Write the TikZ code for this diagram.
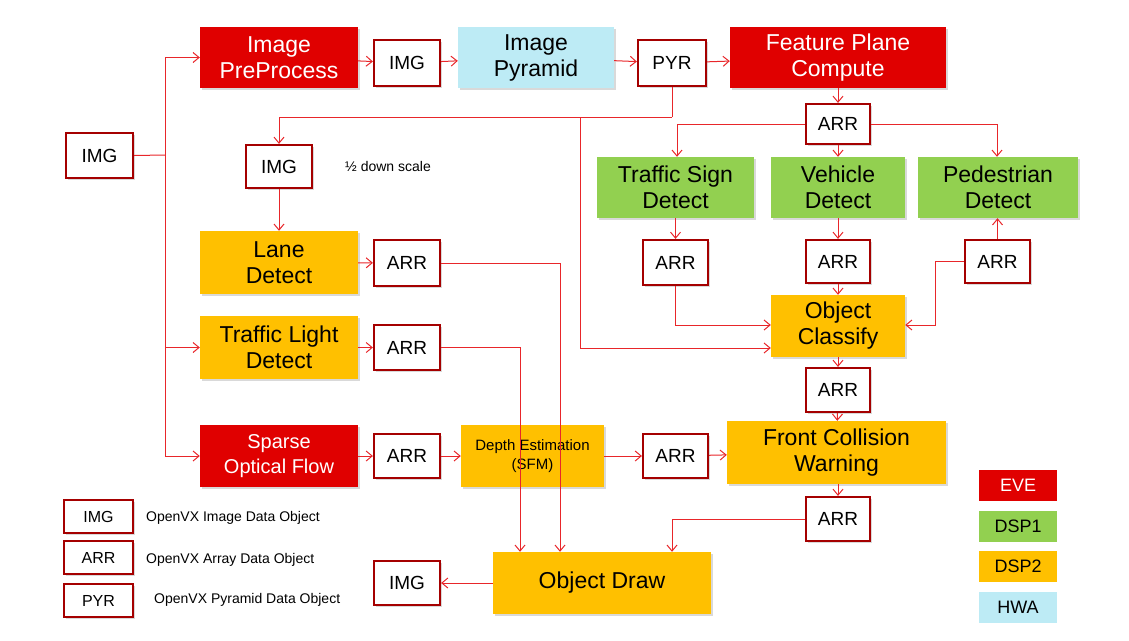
\documentclass[tikz,border=0pt]{standalone}
\usepackage{fontspec}
\setmainfont{Liberation Sans}
\usetikzlibrary{arrows.meta,shadows}
\definecolor{eve}{HTML}{E00000}
\definecolor{hwa}{HTML}{BDEBF5}
\definecolor{dspa}{HTML}{92D050}
\definecolor{dspb}{HTML}{FFC000}
\definecolor{ln}{HTML}{E8262A}
\definecolor{bd}{HTML}{A50000}
\begin{document}
\begin{tikzpicture}[x=1pt,y=-1pt,
  blk/.style={inner sep=0pt,align=center,font=\fontsize{23}{26}\selectfont,drop shadow={shadow xshift=2pt,shadow yshift=-2pt,opacity=0.3}},
  obj/.style={draw=bd,line width=2.2pt,fill=white,inner sep=0pt,font=\fontsize{19}{22}\selectfont,drop shadow={shadow xshift=2pt,shadow yshift=-2pt,opacity=0.3}},
  lg/.style={inner sep=0pt,align=center,font=\fontsize{18}{20}\selectfont},
  cn/.style={draw=ln,line width=1pt,-{Straight Barb[length=6pt,width=10pt]}},
  cl/.style={draw=ln,line width=1pt},
  txt/.style={inner sep=0pt,anchor=west,font=\fontsize{14}{16}\selectfont}]
\useasboundingbox (0,0) rectangle (1129,640);
\newcommand\bx[7]{\node[#6,minimum width=#4-#2,minimum height=#5-#3] (#1) at ({(#2+#4)/2},{(#3+#5)/2}) {#7};}
% process blocks
\bx{ipp}{200}{27}{358}{88}{blk,fill=eve,text=white}{Image\\PreProcess}
\bx{pyr}{458}{27}{614}{88}{blk,fill=hwa}{Image\\Pyramid}
\bx{fpc}{730}{27}{946}{88}{blk,fill=eve,text=white}{Feature Plane\\Compute}
\bx{tsd}{597}{157}{754}{218}{blk,fill=dspa}{Traffic Sign\\Detect}
\bx{vd}{771}{157}{905}{218}{blk,fill=dspa}{Vehicle\\Detect}
\bx{pd}{918}{157}{1078}{218}{blk,fill=dspa}{Pedestrian\\Detect}
\bx{oc}{771}{295}{905}{357}{blk,fill=dspb}{Object\\Classify}
\bx{ld}{200}{231}{358}{294}{blk,fill=dspb}{Lane\\Detect}
\bx{tld}{200}{316}{358}{379}{blk,fill=dspb}{Traffic Light\\Detect}
\bx{sof}{200}{425}{358}{487}{blk,fill=eve,text=white,font=\fontsize{20}{25}\selectfont}{Sparse\\Optical Flow}
\bx{de}{461}{425}{604}{487}{blk,fill=dspb,font=\fontsize{15}{19}\selectfont}{Depth Estimation\\(SFM)}
\bx{fcw}{727}{421}{946}{484}{blk,fill=dspb}{Front Collision\\Warning}
\bx{od}{493}{552}{711}{614}{blk,fill=dspb}{Object Draw}
% data objects
\bx{imgL}{66}{133}{133}{178}{obj}{IMG}
\bx{img1}{374}{40}{440}{86}{obj}{IMG}
\bx{pyrO}{638}{40}{706}{86}{obj}{PYR}
\bx{arrT}{806}{104}{870}{144}{obj}{ARR}
\bx{imgH}{246}{145}{312}{188}{obj}{IMG}
\bx{arrTS}{643}{240}{708}{285}{obj}{ARR}
\bx{arrV}{806}{240}{870}{283}{obj}{ARR}
\bx{arrP}{965}{240}{1030}{283}{obj}{ARR}
\bx{arrL}{374}{240}{440}{286}{obj}{ARR}
\bx{arrTL}{374}{325}{440}{370}{obj}{ARR}
\bx{arrOC}{806}{368}{870}{412}{obj}{ARR}
\bx{arrS}{374}{434}{440}{478}{obj}{ARR}
\bx{arrD}{643}{434}{708}{478}{obj}{ARR}
\bx{arrF}{806}{497}{870}{541}{obj}{ARR}
\bx{imgO}{374}{561}{440}{605}{obj}{IMG}
% legend
\bx{lgI}{64}{500}{133}{533}{obj,font=\fontsize{16}{18}\selectfont}{IMG}
\bx{lgA}{64}{541}{133}{574}{obj,font=\fontsize{16}{18}\selectfont}{ARR}
\bx{lgP}{64}{584}{133}{617}{obj,font=\fontsize{16}{18}\selectfont}{PYR}
\node[txt] (t1) at (146,518) {OpenVX Image Data Object};
\node[txt] (t2) at (146,560) {OpenVX Array Data Object};
\node[txt] (t3) at (154,600) {OpenVX Pyramid Data Object};
\node[txt] (ds) at (345,166) {½ down scale};
\bx{eve}{979}{470}{1057}{501}{lg,fill=eve,text=white}{EVE}
\bx{d1}{979}{511}{1057}{542}{lg,fill=dspa}{DSP1}
\bx{d2}{979}{551}{1057}{582}{lg,fill=dspb}{DSP2}
\bx{hw}{979}{592}{1057}{623}{lg,fill=hwa}{HWA}
% connectors
\draw[cl] (imgL.east) -- (165,155) coordinate (tr);
\draw[cn] (tr) |- (ipp.west);
\draw[cn] (tr) |- (tld.west);
\draw[cn] (tr) |- (sof.west);
\draw[cn] (ipp) -- (img1);
\draw[cn] (img1) -- (pyr);
\draw[cn] (pyr) -- (pyrO);
\draw[cn] (pyrO) -- (fpc);
\draw[cl] (pyrO.south) -- (672,117) coordinate (pb);
\draw[cn] (pb) -| (imgH.north);
\draw[cn] (580,117) |- (oc.west |- 0,348);
\draw[cn] (fpc) -- (arrT);
\draw[cn] (arrT) -- (vd);
\draw[cn] (arrT.west) -| (tsd.north -| 677,0);
\draw[cn] (arrT.east) -| (pd.north -| 997,0);
\draw[cn] (tsd.south -| arrTS.north) -- (arrTS.north);
\draw[cn] (vd) -- (arrV);
\draw[cn] (arrP.north) -- (pd.south -| arrP.north) ;
\draw[cn] (arrV) -- (oc);
\draw[cn] (arrTS.south) |- (oc.west |- 0,325);
\draw[cn] (arrP.west) -| (935,325) -- (oc.east |- 0,325);
\draw[cn] (imgH) -- (ld);
\draw[cn] (ld) -- (arrL);
\draw[cn] (tld) -- (arrTL);
\draw[cn] (arrL.east) -| (od.north -| 560,0);
\draw[cn] (arrTL.east) -| (od.north -| 520,0);
\draw[cn] (sof) -- (arrS);
\draw[cn] (arrS) -- (de);
\draw[cn] (de) -- (arrD);
\draw[cn] (arrD) -- (fcw);
\draw[cn] (oc) -- (arrOC);
\draw[cn] (arrOC) -- (fcw);
\draw[cn] (fcw.south -| arrF.north) -- (arrF.north);
\draw[cn] (arrF.west) -| (od.north -| 672,0);
\draw[cn] (od) -- (imgO);
\end{tikzpicture}
\end{document}
